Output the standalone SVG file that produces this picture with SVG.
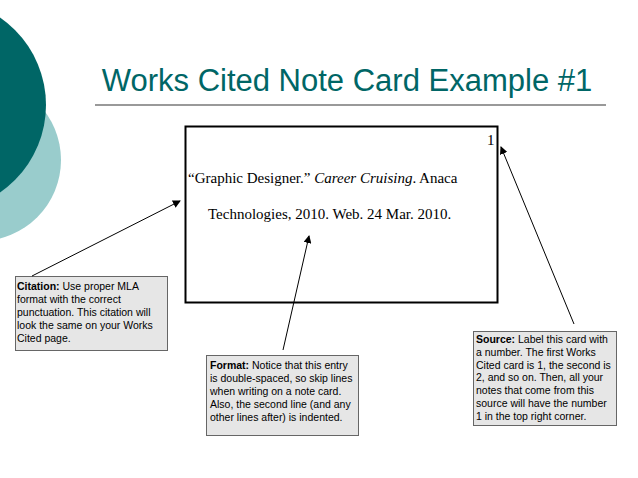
<svg xmlns="http://www.w3.org/2000/svg" width="638" height="478" viewBox="0 0 638 478">
<defs>
<marker id="ah" markerWidth="8" markerHeight="8" refX="7" refY="4" orient="auto" markerUnits="userSpaceOnUse"><path d="M0,0 L8,4 L0,8 z" fill="#000"/></marker>
<style>
.note{fill:#e6e6e6;stroke:#666;stroke-width:1}
.nt{font-family:"Liberation Sans",Arial,sans-serif;font-size:10.5px;fill:#000}
.ct{font-family:"Liberation Serif","Times New Roman",serif;font-size:15px;fill:#000}
.cn{stroke:#000;stroke-width:1;fill:none;marker-end:url(#ah)}
</style>
</defs>
<rect width="638" height="478" fill="#fff"/>
<circle cx="-20" cy="160" r="81" fill="#99cccc"/>
<circle cx="-60" cy="105" r="106" fill="#006666"/>
<text x="347" y="91" font-family="'Liberation Sans',Arial,sans-serif" font-size="31" fill="#006666" text-anchor="middle">Works Cited Note Card Example #1</text>
<line x1="95" y1="105" x2="606" y2="105" stroke="#777" stroke-width="1.5"/>
<g id="card">
<rect x="185.5" y="126.5" width="312" height="176" fill="#fff" stroke="#000" stroke-width="2"/>
<text class="ct" x="487" y="145">1</text>
<text class="ct" x="188" y="183">“Graphic Designer.” <tspan font-style="italic">Career Cruising</tspan>. Anaca</text>
<text class="ct" x="208" y="219">Technologies, 2010. Web. 24 Mar. 2010.</text>
</g>
<g id="citation">
<rect class="note" x="15.5" y="276.5" width="152" height="74"/>
<text class="nt" x="17" y="290"><tspan font-weight="bold">Citation:</tspan> Use proper MLA</text>
<text class="nt" x="17" y="303">format with the correct</text>
<text class="nt" x="17" y="316">punctuation. This citation will</text>
<text class="nt" x="17" y="329">look the same on your Works</text>
<text class="nt" x="17" y="342">Cited page.</text>
</g>
<g id="format">
<rect class="note" x="206.5" y="355.5" width="152" height="80"/>
<text class="nt" x="210" y="369"><tspan font-weight="bold">Format:</tspan> Notice that this entry</text>
<text class="nt" x="210" y="382">is double-spaced, so skip lines</text>
<text class="nt" x="210" y="395">when writing on a note card.</text>
<text class="nt" x="210" y="408">Also, the second line (and any</text>
<text class="nt" x="210" y="421">other lines after) is indented.</text>
</g>
<g id="source">
<rect class="note" x="473.5" y="331.5" width="143" height="94"/>
<text class="nt" x="476" y="343"><tspan font-weight="bold">Source:</tspan> Label this card with</text>
<text class="nt" x="476" y="355.8">a number. The first Works</text>
<text class="nt" x="476" y="368.6">Cited card is 1, the second is</text>
<text class="nt" x="476" y="381.4">2, and so on. Then, all your</text>
<text class="nt" x="476" y="394.2">notes that come from this</text>
<text class="nt" x="476" y="407">source will have the number</text>
<text class="nt" x="476" y="419.8">1 in the top right corner.</text>
</g>
<g id="connectors">
<line class="cn" x1="32" y1="276" x2="180" y2="201"/>
<line class="cn" x1="283" y1="350" x2="309" y2="236"/>
<line class="cn" x1="574" y1="324" x2="501" y2="147"/>
</g>
</svg>
